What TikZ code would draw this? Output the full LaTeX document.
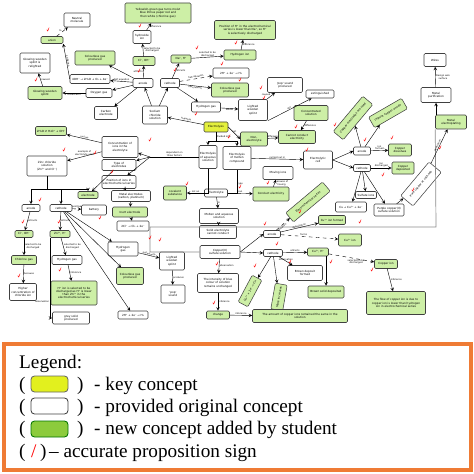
\documentclass[tikz,border=0pt]{standalone}
\usepackage{fontspec}
\setmainfont{Liberation Serif}
\newfontfamily\mapfont{DejaVu Sans}
\usepackage{tikz}
\usetikzlibrary{arrows, positioning}
\definecolor{keyyellow}{HTML}{E4F03C}
\definecolor{newgreen}{HTML}{CDEFA6}
\definecolor{legendyellow}{HTML}{E2F01E}
\definecolor{legendgreen}{HTML}{8CCB3C}
\definecolor{legendorange}{HTML}{EF7B35}
\newcommand{\maptext}{\mapfont\fontsize{2.4}{2.8}\selectfont}
\newcommand{\maplabel}{\mapfont\fontsize{2.0}{2.3}\selectfont}
\newcommand{\propmark}[1]{\draw[red, line width=0.4pt] (#1) ++(-1.2,-0.3) -- ++(0.9,1.3) -- ++(1.4,-3.4);}
\tikzstyle{given} = [rectangle, rounded corners=1pt, draw=black!75, line width=0.45pt, fill=white, align=center, inner sep=0.3pt, font=\maptext]
\tikzstyle{added} = [given, fill=newgreen]
\tikzstyle{key} = [given, fill=keyyellow]
\tikzstyle{arrow} = [->, >=stealth, line width=0.35pt]
\tikzstyle{link} = [line width=0.35pt]
\tikzstyle{lbl} = [font=\maplabel, inner sep=0.4pt, align=center]
\tikzstyle{legendtxt} = [font=\fontsize{16.4}{19}\selectfont, inner sep=0pt, anchor=base west]
\tikzstyle{legendbox} = [rectangle, rounded corners=3pt, line width=0.7pt, minimum width=37*0.3mm, minimum height=16*0.3mm]
\tikzset{wh/.style 2 args={minimum width=#1*0.3mm, minimum height=#2*0.3mm}}

\begin{document}
\begin{tikzpicture}[x=0.3mm, y=-0.3mm]
\useasboundingbox (0,0) rectangle (474,473);

\node(neutralMol)[given, wh={26}{14}] at (77,20) {Neutral\\molecule};
\node(anionTop)[added, wh={22}{7}] at (52,40) {anion};
\node(splintRelit)[given, wh={30}{20}] at (35,63) {Glowing wooden\\splint is\\relighted};
\node(splintGlow)[added, wh={34}{13}] at (45,93) {Glowing wooden\\splint};
\node(gasA)[added, wh={40}{14}] at (95,58) {Colourless gas\\produced};
\node(anodeEqA)[given, wh={40}{9}] at (90,79) {4OH⁻ → 2H₂O + O₂ + 4e⁻};
\node(oxygenGas)[given, wh={26}{9}] at (99,93) {Oxygen gas};
\node(carbonElec)[given, wh={23}{13}] at (106,113) {Carbon\\electrode};

\node(yellowGas)[added, wh={66}{20}] at (158,13) {Yellowish-green gas turns moist\\blue litmus paper red and\\then white (chlorine gas)};
\node(hydroxIon)[given, wh={18}{13}] at (142,37) {hydroxide\\ion};
\node(anionsA)[added, wh={22}{9}] at (144,61) {Cl⁻, OH⁻};
\node(cationsA)[added, wh={20}{8}] at (181,59) {Na⁺, H⁺};
\node(anodeA)[given, wh={20}{9}] at (143,83) {anode};
\node(cathodeA)[given, wh={19}{9}] at (170,83) {cathode};
\node(naclSol)[given, wh={25}{18}] at (155,115) {Sodium\\chloride\\solution};
\node(positionH)[added, wh={61}{19}] at (245,30) {Position of H⁺ in the electrochemical\\series is lower than Na⁺, so H⁺\\is selectively discharged};
\node(hydrogenIon)[added, wh={32}{10}] at (240,55) {Hydrogen ion};
\node(cathodeEqA)[given, wh={36}{10}] at (231,73) {2H⁺ + 2e⁻ → H₂};
\node(gasB)[added, wh={37}{14}] at (230,90) {Colourless gas\\produced};
\node(hydrogenGas)[given, wh={29}{10}] at (206,107) {Hydrogen gas};
\node(electrolysis)[key, wh={24}{10}] at (216,127) {Electrolysis};

\node(popSound)[given, wh={35}{15}] at (285,85) {‘pop’ sound\\produced};
\node(extinguish)[given, wh={28}{8}] at (320,94) {extinguished};
\node(splintLit)[given, wh={29}{21}] at (253,110) {Lighted\\wooden\\splint};
\node(concSol)[added, wh={34}{15}] at (311,113) {Concentrated\\solution};
\node(copperElec)[added, wh={46}{13}, rotate=50] at (353,118) {Copper electrodes are used};
\node(impureCu)[added, wh={38}{12}, rotate=30] at (388,113) {Impure copper anode};
\node(wires)[given, wh={22}{13}] at (435,60) {Wires};
\node(metalPurif)[given, wh={30}{15}] at (436,95) {Metal\\purification};
\node(electroplating)[added, wh={31}{14}] at (451,122) {Metal\\electroplating};

\node(nonElec)[added, wh={27}{14}] at (254,139) {Non-\\electrolyte};
\node(cannotConduct)[added, wh={37}{13}] at (297,137) {Cannot conduct\\electricity};
\node(electroCell)[given, wh={29}{18}] at (318,160) {Electrolytic\\cell};
\node(movingIons)[given, wh={30}{13}] at (278,173) {Moving ions};
\node(conductElec)[added, wh={36}{14}] at (271,194) {Conduct electricity};
\node(echemSeries)[added, wh={48}{12}, rotate=40] at (308,202) {Electrochemical series};
\node(zincEq)[given, wh={31}{10}] at (351,207) {Cu → Cu²⁺ + 2e⁻};
\node(cuIonA)[added, wh={27}{9}] at (332,220) {Cu²⁺ ion formed};
\node(anodeB)[given, wh={17}{7}] at (272,234) {anode};
\node(cuIonB)[added, wh={23}{12}] at (350,240) {Cu²⁺ ion};
\node(anodeC)[given, wh={17}{8}] at (362,151) {anode};
\node(cathodeC)[given, wh={17}{7}] at (362,168) {cathode};
\node(cuDissolve)[added, wh={23}{12}] at (400,150) {Copper\\dissolves};
\node(cuDeposit)[added, wh={22}{12}] at (403,168) {Copper\\deposited};
\node(pureCu)[given, wh={44}{16}, rotate=50] at (421,184) {Pure copper at cathode};
\node(sulfateIons)[given, wh={21}{7}] at (366,195) {Sulfate ions};
\node(purpleSol)[given, wh={30}{12}] at (389,210) {Purple copper(II)\\sulfate solution};

\node(cathodeB)[given, wh={19}{7}] at (273,253) {cathode};
\node(cationsB)[added, wh={21}{8}] at (318,252) {Cu²⁺, H⁺};
\node(brownDep)[given, wh={35}{15}] at (305,273) {Brown deposit\\formed};
\node(cuReduce)[added, wh={30}{11}, rotate=62] at (250,291) {Cu²⁺ + 2e⁻ → Cu};
\node(cuMass)[added, wh={26}{12}, rotate=80] at (279,297) {Mass increases};
\node(brownSolid)[added, wh={36}{12}] at (326,292) {Brown solid deposited};
\node(amountCu)[added, wh={95}{13}] at (300,316) {The amount of copper ions remained the same in the\\solution};
\node(cuIonC)[added, wh={23}{9}] at (386,264) {Copper ion};
\node(flowCu)[added, wh={59}{23}] at (396,303) {The flow of copper ion is due to\\copper ion is lower than hydrogen\\ion in electrochemical series};

\node(cuso4Sol)[given, wh={40}{13}] at (220,252) {Copper(II)\\sulfate solution};
\node(blueColour)[given, wh={41}{19}] at (218,283) {The intensity of blue\\colour of solution\\remains unchanged};
\node(noChange)[added, wh={23}{8}] at (218,315) {change};
\node(hGasB)[given, wh={30}{14}] at (123,249) {Hydrogen\\gas};
\node(splintB)[given, wh={25}{18}] at (172,261) {Lighted\\wooden\\splint};
\node(gasC)[added, wh={27}{17}] at (130,276) {Colourless gas\\produced};
\node(popB)[given, wh={24}{18}] at (173,294) {‘pop’\\sound};
\node(h2Eq)[given, wh={30}{8}] at (133,315) {2H⁺ + 2e⁻ → H₂};

\node(waterEq)[added, wh={31}{9}] at (51,131) {2H₂O ⇌ H₃O⁺ + OH⁻};
\node(zncl2Sol)[given, wh={40}{20}] at (47,166) {Zinc chloride\\solution\\(Zn²⁺ and Cl⁻)};
\node(ionConc)[given, wh={36}{21}] at (120,147) {Concentration of\\ions in the\\electrolyte};
\node(electrodeType)[given, wh={34}{11}] at (119,165) {Type of\\electrodes};
\node(ionPosition)[given, wh={34}{13}] at (119,182) {Position of ions in\\electrochemical series};
\node(carbonB)[added, wh={20}{7}] at (88,195) {electrode};
\node(battery)[given, wh={25}{10}] at (94,210) {battery};
\node(anodeD)[given, wh={18}{7}] at (31,208) {anode};
\node(cathodeD)[given, wh={22}{7}] at (61,208) {cathode};
\node(anionsD)[added, wh={18}{7}] at (24,234) {Cl⁻, OH⁻};
\node(cationsD)[added, wh={20}{7}] at (60,234) {Zn²⁺, H⁺};
\node(inertElec)[given, wh={39}{11}] at (131,196) {Metal electrodes\\(carbon, platinum)};
\node(inertB)[added, wh={35}{10}] at (130,212) {Inert electrode};
\node(clEq)[given, wh={32}{10}] at (133,226) {2Cl⁻ → Cl₂ + 2e⁻};
\node(electrolyte)[given, wh={23}{8}] at (216,193) {Electrolyte};
\node(covalent)[added, wh={23}{14}] at (175,193) {covalent\\substance};
\node(electrolysisAq)[given, wh={18}{23}] at (208,157) {Electrolysis\\of aqueous\\solution};
\node(electrolysisMol)[given, wh={28}{23}] at (237,158) {Electrolysis\\of molten\\compound};
\node(moltenAq)[given, wh={39}{15}] at (219,216) {Molten and aqueous\\solution};
\node(solidElec)[given, wh={37}{13}] at (218,232) {Solid electrolyte\\cannot conduct};

\node(chlorine)[added, wh={25}{9}] at (24,260) {Chlorine gas};
\node(hydrogenD)[given, wh={30}{9}] at (67,260) {Hydrogen gas};
\node(higherConc)[given, wh={27}{17}] at (23,292) {Higher\\concentration of\\chloride ion};
\node(znReason)[added, wh={46}{24}] at (74,293) {H⁺ ion is selected to be\\discharged as H⁺ is lower\\than Zn²⁺ in the\\electrochemical series};
\node(greySolid)[given, wh={37}{12}] at (71,318) {grey solid\\produced};

\draw[arrow, dashed](anionTop) -- node[lbl, above left]{to}(neutralMol);
\draw[arrow](anodeEqA.west) -- node[lbl, sloped, above]{oxidation}(anionTop.south east);
\draw[arrow](splintGlow) -- node[lbl, right]{caused}(splintRelit);
\draw[arrow](oxygenGas) -- node[lbl, below]{tested with}(splintGlow);
\draw[arrow](anodeA) -- node[lbl, above]{half equation}(anodeEqA);
\draw[arrow](anodeA) -- (oxygenGas);
\draw[arrow](anodeA) -- (carbonElec);
\draw[arrow](anodeA) -- (gasA);
\draw[arrow](anodeA) -- node[lbl, left]{attracts}(anionsA);
\draw[arrow](anionsA) -- node[lbl, right]{selected to be\\discharged}(hydroxIon);
\draw[arrow](hydroxIon) -- node[lbl, right]{difference}(yellowGas);
\draw[arrow](cathodeA) -- node[lbl, right]{attracts}(cationsA);
\draw[arrow](cationsA) -- node[lbl, above]{selected to be\\discharged}(hydrogenIon);
\draw[arrow](hydrogenIon) -- node[lbl, right]{difference}(positionH);
\draw[arrow, dashed](cathodeA) -- node[lbl, above, sloped]{half equation}(cathodeEqA);
\draw[arrow](cathodeA) -- node[lbl, below, sloped]{observation}(gasB);
\draw[arrow](cathodeA) -- (hydrogenGas);
\draw[arrow](naclSol) -- (anodeA);
\draw[arrow](naclSol) -- (cathodeA);
\draw[arrow](electrolysis) -- node[lbl, above, sloped]{example}(naclSol);
\draw[arrow](hydrogenGas) -- node[lbl, below]{tested}(splintLit);
\draw[arrow](splintLit) -- node[lbl, above left]{caused}(popSound);
\draw[arrow](splintLit.south east) -- node[lbl, above, sloped]{use}(extinguish);
\draw[arrow](concSol) -- node[lbl, right]{difference}(cannotConduct);

\coordinate(elSplit) at (216,141);
\draw[link](electrolysis) -- node[lbl, right]{divided into}(elSplit);
\draw[arrow](elSplit) -| (electrolysisAq);
\draw[arrow](elSplit) -| (electrolysisMol);
\draw[arrow](electrolysis.east) -- node[lbl, above]{not}(nonElec.west);
\draw[arrow](nonElec) -- node[lbl, above]{difference}(cannotConduct);
\draw[arrow](electrolysisMol) -- node[lbl, above]{carried out in}(electroCell);
\draw[arrow](electroCell.east) -- (anodeC.west);
\draw[arrow](electroCell.east) -- (cathodeC.west);
\draw[arrow](conductElec) -- node[lbl, right]{because of\\having}(movingIons);
\draw[arrow](electrolyte) -- node[lbl, above]{can}(conductElec);
\draw[arrow](electrolyte) -- node[lbl, above]{not an}(covalent);
\draw[link](electrolysisAq) |- (electrolyte);
\draw[link](electrolysisMol) |- node[lbl, pos=0.3, right]{type}(electrolyte);
\draw[arrow](electrolyte) -- node[lbl, right]{is}(moltenAq);
\draw[arrow](moltenAq) -- (solidElec);

\coordinate(depJoin) at (150,157);
\draw[link](electrolysisAq) -- node[lbl, above]{dependent on\\three factors}(depJoin);
\draw[arrow](depJoin) -- (ionConc);
\draw[arrow](depJoin) -- (electrodeType);
\draw[arrow](depJoin) -- (ionPosition);
\draw[arrow](ionConc) -- node[lbl, above]{example of\\electrolyte used}(zncl2Sol);
\draw[arrow](ionConc) -- node[lbl, sloped, above]{ionises}(waterEq);
\draw[arrow](electrodeType) -- (carbonB);
\draw[arrow](ionPosition) -- (inertElec);
\draw[arrow](inertElec) -- (inertB);
\draw[arrow](inertB) -- (clEq);

\coordinate(znSplit) at (47,189);
\draw[link](zncl2Sol) -- (znSplit);
\draw[arrow](znSplit) -| (anodeD);
\draw[arrow](znSplit) -| (cathodeD);
\draw[arrow](znSplit) -| (carbonB);
\draw[arrow, dashed](cathodeD) -- node[lbl, above]{positive}(battery);
\draw[arrow](anodeD) -- node[lbl, right]{attracts}(anionsD);
\draw[arrow](cathodeD) -- node[lbl, right]{attracts}(cationsD);
\draw[arrow](anionsD) -- node[lbl, right]{selected to be\\discharged}(chlorine);
\draw[arrow](cationsD) -- node[lbl, right]{selected to be\\discharged}(hydrogenD);
\draw[arrow](chlorine) -- node[lbl, right]{because}(higherConc);
\draw[arrow](hydrogenD) -- node[lbl, right]{inference}(znReason);
\draw[arrow](cationsD.south west) |- node[lbl, pos=0.4, left]{observation}(greySolid.west);
\draw[arrow](cathodeD) -- (hGasB);
\draw[arrow](cathodeD) -- (gasC);
\draw[arrow](cathodeD) -- (h2Eq);
\draw[arrow](hGasB) -- node[lbl, above, sloped]{tested with}(splintB);
\draw[arrow](splintB) -- node[lbl, right]{produces}(popB);

\coordinate(appCorner) at (436,227);
\coordinate(appLeft) at (150,227);
\draw[link, black!45, line width=0.6pt](electroplating.south west) -- (appCorner) -- (appLeft) |- (cuso4Sol.west);
\draw[arrow](cuso4Sol.east) -- (anodeB.west);
\draw[arrow](cuso4Sol.east) -- (cathodeB.west);
\draw[arrow](cuso4Sol) -- node[lbl, right]{observation}(blueColour);
\draw[arrow](blueColour) -- node[lbl, right]{inference}(noChange);
\draw[arrow](noChange) -- node[lbl, above]{inference}(amountCu);
\draw[arrow, dashed](anodeB) -- node[lbl, sloped, below, pos=0.35]{oxidation}(echemSeries);
\draw[arrow](anodeB) -- node[lbl, above, sloped]{observation}(cuIonA);
\draw[arrow, dashed](anodeB) -- node[lbl, above, pos=0.4]{forms}(cuIonB);
\draw[arrow](cathodeB) -- node[lbl, above]{attracts}(cationsB);
\draw[arrow](cathodeB) -- node[lbl, above]{observation}(brownDep);
\draw[arrow](cathodeB) -- (cuReduce);
\draw[arrow](cathodeB) -- (cuMass);
\draw[arrow](cationsB.south -| brownSolid.north) -- (brownSolid.north);
\draw[arrow, dashed](cationsB) -- node[lbl, below, pos=0.6]{selected to be\\discharged}(cuIonC);
\draw[arrow](cuIonC) -- node[lbl, right]{inference}(flowCu);

\draw[arrow](anodeC) -- node[lbl, above]{ion\\formed}(cuDissolve);
\draw[arrow](cathodeC) -- node[lbl, above]{ion\\discharged}(cuDeposit);
\draw[arrow](cathodeC) -- (sulfateIons);
\draw[arrow](cathodeC) -- (purpleSol);
\draw[arrow](cathodeC) -- (zincEq);
\draw[arrow](anodeC) -- (copperElec);
\draw[arrow](anodeC) -- (impureCu);
\draw[arrow](purpleSol) -- (pureCu);
\draw[arrow](pureCu) -- node[lbl, above, sloped]{application}(electroplating);
\draw[arrow](electroplating.north -| metalPurif.south) -- (metalPurif.south);
\draw[arrow](metalPurif) -- node[lbl, right]{Design wire\\surface}(wires);

\propmark{36,80} \propmark{48,30} \propmark{140,26} \propmark{139,71}
\propmark{175,70} \propmark{197,48} \propmark{236,43} \propmark{222,64}
\propmark{240,80} \propmark{261,88} \propmark{264,98} \propmark{196,114}
\propmark{229,137} \propmark{296,127} \propmark{335,125} \propmark{307,150}
\propmark{268,183} \propmark{240,187} \propmark{187,184} \propmark{150,140}
\propmark{95,153} \propmark{112,172} \propmark{40,200} \propmark{23,222}
\propmark{59,222} \propmark{19,276} \propmark{60,270} \propmark{150,238}
\propmark{160,240} \propmark{265,224} \propmark{300,212} \propmark{277,244}
\propmark{255,266} \propmark{290,262} \propmark{331,262} \propmark{372,270}
\propmark{365,140} \propmark{392,138} \propmark{383,175} \propmark{413,190}
\propmark{440,148} \propmark{360,222} \propmark{214,303} \propmark{217,264}
\propmark{100,218} \propmark{64,150}

\draw[legendorange, line width=3.4pt] (4,344) rectangle (471,470);
\node(legendHead)[legendtxt] at (19,368) {Legend:};
\node(keyOpen)[legendtxt] at (19,390.5) {(};
\node(keyBox)[legendbox, draw=black!60, fill=legendyellow] at (49.5,384) {};
\node(keyClose)[legendtxt] at (77,390.5) {)};
\node(keyText)[legendtxt] at (94,390.5) {- key concept};
\node(givenOpen)[legendtxt] at (19,412.5) {(};
\node(givenBox)[legendbox, draw=black!75, fill=white] at (49.5,406) {};
\node(givenClose)[legendtxt] at (77,412.5) {)};
\node(givenText)[legendtxt] at (94,412.5) {- provided original concept};
\node(addedOpen)[legendtxt] at (19,434.5) {(};
\node(addedBox)[legendbox, draw=black!55!green, fill=legendgreen] at (49.5,429) {};
\node(addedClose)[legendtxt] at (77,434.5) {)};
\node(addedText)[legendtxt] at (94,434.5) {- new concept added by student};
\node(markOpen)[legendtxt] at (19,457) {(};
\node(markSign)[legendtxt, text=red] at (31,457) {/};
\node(markClose)[legendtxt] at (40,457) {)};
\node(markText)[legendtxt] at (49,457) {– accurate proposition sign};
\end{tikzpicture}
\end{document}
